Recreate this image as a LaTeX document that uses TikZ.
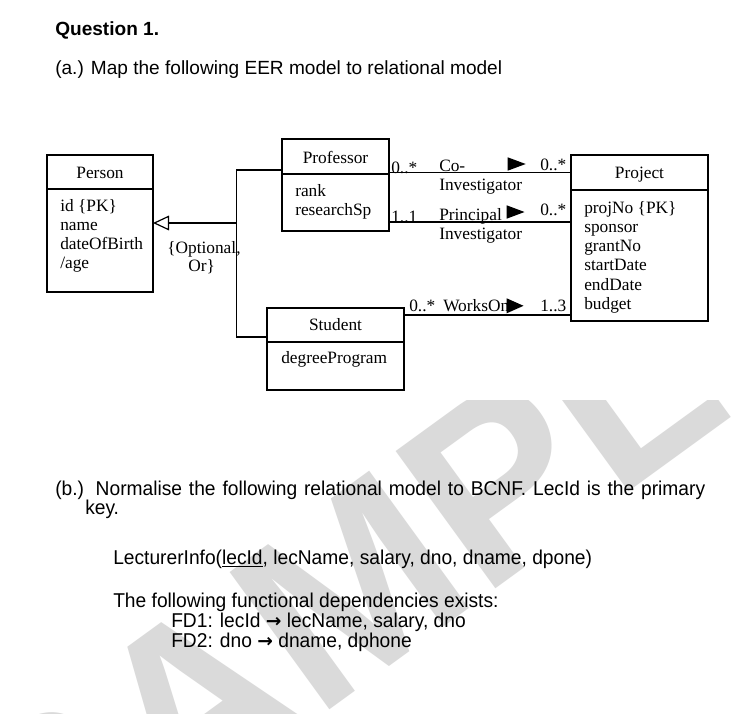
\documentclass[tikz,border=0pt]{standalone}
\usepackage{fontspec}
\setmainfont{Liberation Serif}
\newfontfamily\arial{Liberation Sans}
\newfontfamily\arialn[FakeStretch=0.96]{Liberation Sans}
\newfontfamily\dejavu{DejaVu Sans}
\usetikzlibrary{arrows.meta}
\definecolor{wmgray}{RGB}{218,218,218}
\newcommand{\fdarrow}{{\dejavu\bfseries\fontsize{14}{17}\selectfont →}}
\begin{document}
\begin{tikzpicture}[x=0.75pt,y=-0.75pt,
  box/.style={draw,line width=0.9pt,inner sep=0pt,outer sep=0pt,anchor=north west},
  cls/.style={font=\fontsize{13}{15}\selectfont,inner sep=0pt,anchor=base},
  attr/.style={font=\fontsize{13}{15}\selectfont,inner sep=0pt,anchor=base west},
  conn/.style={line width=0.9pt},
  qtext/.style={font=\arial\fontsize{14.3}{17}\selectfont,inner sep=0pt,anchor=base west},
  btext/.style={font=\arialn\fontsize{15}{18}\selectfont,inner sep=0pt,anchor=base west}]
\useasboundingbox (0,0) rectangle (733,714);
\fill[white] (0,0) rectangle (733,714);
% watermark
\begin{scope}
\clip (0,400) rectangle (733,714);
\node[font=\arial\bfseries\fontsize{185}{185}\selectfont,text=wmgray,rotate=36,inner sep=0pt] (wm) at (405,550) {SAMPLE};
\end{scope}
% header
\node[qtext,font=\arial\bfseries\fontsize{14.3}{17}\selectfont] (q1) at (55,35) {Question 1.};
\node[qtext] (qa) at (55,74) {(a.) Map the following EER model to relational model};
% boxes
\node[box,minimum width=79.5pt,minimum height=102.75pt] (person) at (47,155) {};
\node[box,minimum width=80.25pt,minimum height=69pt] (prof) at (282,139) {};
\node[box,minimum width=102.75pt,minimum height=124.5pt] (proj) at (571,155) {};
\node[box,minimum width=102.75pt,minimum height=61.5pt] (stud) at (267,308) {};
\coordinate (pd) at (100,189);
\coordinate (rd) at (330,174);
\coordinate (jd) at (640,190);
\coordinate (sd) at (330,342);
\draw[conn] (person.west |- pd) -- (person.east |- pd);
\draw[conn] (prof.west |- rd) -- (prof.east |- rd);
\draw[conn] (proj.west |- jd) -- (proj.east |- jd);
\draw[conn] (stud.west |- sd) -- (stud.east |- sd);
% class names
\node[cls] (tperson) at (100,178) {Person};
\node[cls] (tprof) at (335.5,163) {Professor};
\node[cls] (tproj) at (639.5,178) {Project};
\node[cls] (tstud) at (335.5,330) {Student};
% attributes
\node[attr] (a1) at (60,211) {id \{PK\}};
\node[attr] (a2) at (60,230) {name};
\node[attr] (a3) at (60,249) {dateOfBirth};
\node[attr] (a4) at (60,268) {/age};
\node[attr] (b1) at (295,196) {rank};
\node[attr] (b2) at (295,215) {researchSp};
\node[attr] (c1) at (584,213) {projNo \{PK\}};
\node[attr] (c2) at (584,232.3) {sponsor};
\node[attr] (c3) at (584,251.6) {grantNo};
\node[attr] (c4) at (584,270.9) {startDate};
\node[attr] (c5) at (584,290.2) {endDate};
\node[attr] (c6) at (584,309.5) {budget};
\node[attr] (d1) at (281,363) {degreeProgram};
% generalisation
\coordinate (j1) at (236.7,170);
\coordinate (j2) at (236.7,337);
\coordinate (j3) at (236.7,223);
\draw[conn] (prof.west |- j1) -- (j1) -- (j2) -- (stud.west |- j2);
\draw[conn,-{Triangle[open,length=12pt,width=11pt,line width=0.9pt]}] (j3) -- (person.east |- j3);
\node[attr] (opt1) at (167,253) {\{Optional,};
\node[attr] (opt2) at (188,271.5) {Or\}};
% associations
\coordinate (co) at (480,172.7);
\coordinate (pr) at (480,222);
\coordinate (wo) at (480,315);
\draw[conn] (prof.east |- co) -- (proj.west |- co);
\draw[conn] (prof.east |- pr) -- (proj.west |- pr);
\draw[conn] (stud.east |- wo) -- (proj.west |- wo);
\node[attr] (m1) at (391,173.8) {0..*};
\node[attr] (m2) at (540,170) {0..*};
\node[attr] (m3) at (391,222.5) {1..1};
\node[attr] (m4) at (540,215) {0..*};
\node[attr] (m5) at (409,311.5) {0..*};
\node[attr] (m6) at (540,311.5) {1..3};
\node[attr] (l1) at (439,171) {Co-};
\node[attr] (l2) at (439,190) {Investigator};
\node[attr] (l3) at (439,220) {Principal};
\node[attr] (l4) at (439,239) {Investigator};
\node[attr] (l5) at (443,311.5) {WorksOn};
\fill (507.7,157.3) -- (525.7,164) -- (507.7,170.7) -- cycle;
\fill (506.7,205.3) -- (524.5,212) -- (506.7,218.7) -- cycle;
\fill (506.7,298.3) -- (523.5,305.8) -- (506.7,313.3) -- cycle;
% part b
\node[btext] (pb1) at (55,495.3) {\makebox[487.5pt][s]{(b.) Normalise the following relational model to BCNF. LecId is the primary}};
\node[btext] (pb2) at (85,514) {key.};
\node[btext] (pb3) at (113,564) {LecturerInfo(\underline{lecId}, lecName, salary, dno, dname, dpone)};
\node[btext] (pb4) at (113,607.5) {The following functional dependencies exists:};
\node[btext] (pb5) at (171,627.3) {FD1: lecId \fdarrow{} lecName, salary, dno};
\node[btext] (pb6) at (171,647.3) {FD2: dno \fdarrow{} dname, dphone};
\end{tikzpicture}
\end{document}
